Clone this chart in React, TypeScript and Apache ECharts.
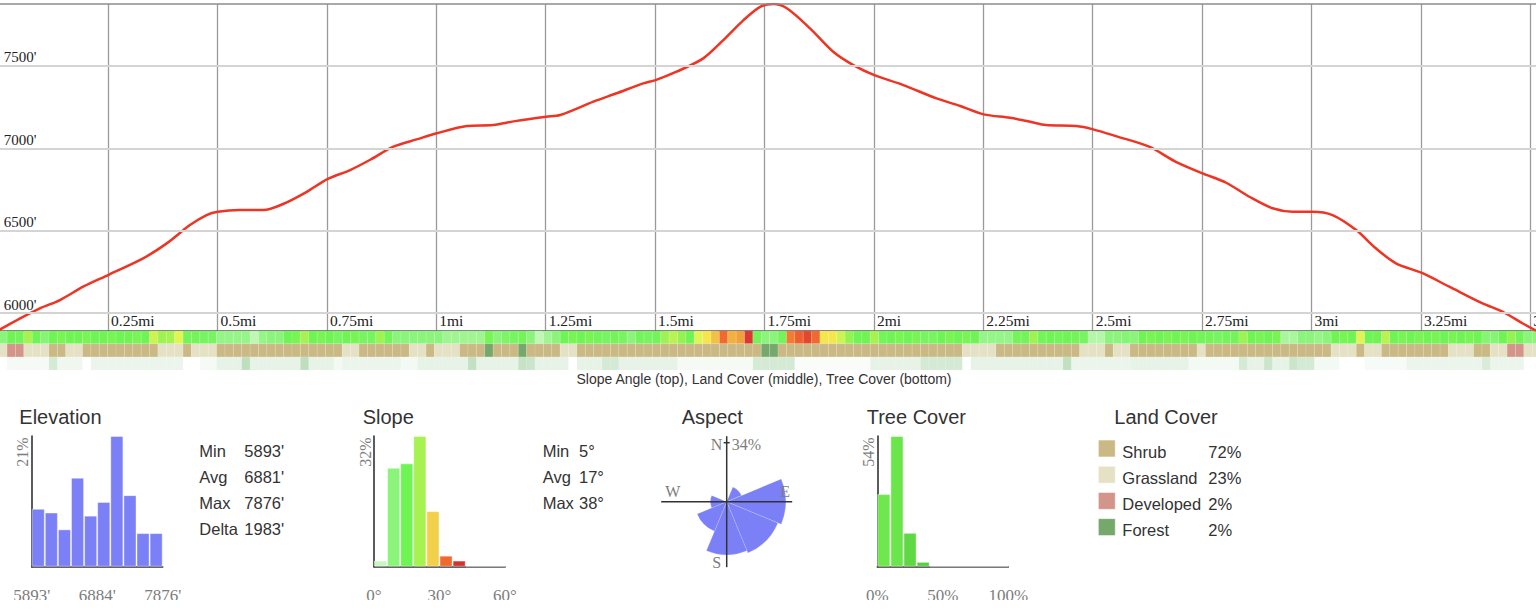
import React, { useEffect, useRef } from "react";
import * as echarts from "echarts";

// ---------------- data ----------------
const DIST_MI = [0, 0.049, 0.094, 0.14, 0.193, 0.25, 0.33, 0.384, 0.437, 0.475, 0.501, 0.551, 0.605, 0.65, 0.704, 0.751, 0.803, 0.848, 0.902, 0.955, 1.001, 1.07, 1.13, 1.18, 1.251, 1.283, 1.359, 1.412, 1.473, 1.501, 1.549, 1.61, 1.656, 1.702, 1.74, 1.77, 1.801, 1.854, 1.907, 1.953, 2.001, 2.067, 2.143, 2.197, 2.251, 2.311, 2.357, 2.393, 2.462, 2.501, 2.553, 2.629, 2.69, 2.751, 2.805, 2.858, 2.911, 2.957, 3.001, 3.048, 3.102, 3.147, 3.193, 3.251, 3.315, 3.391, 3.437, 3.482, 3.513];
const ELEV_FT = [5896, 5968, 6029, 6079, 6160, 6231, 6332, 6423, 6534, 6595, 6615, 6625, 6625, 6662, 6736, 6813, 6868, 6929, 7010, 7054, 7091, 7135, 7141, 7165, 7192, 7202, 7283, 7334, 7394, 7414, 7465, 7546, 7657, 7778, 7859, 7876, 7850, 7728, 7586, 7505, 7444, 7384, 7303, 7257, 7206, 7185, 7161, 7141, 7135, 7115, 7074, 7010, 6918, 6848, 6791, 6706, 6636, 6615, 6615, 6595, 6504, 6393, 6302, 6245, 6160, 6059, 6008, 5938, 5893];
const ELEV_TICKS = [6000, 6500, 7000, 7500];
const X_TICK_STEP = 0.25;

const CELL_MI = 0.01915;
const SLOPE_DEG = [
  9, 15, 14, 21, 15, 10, 15, 16, 15, 15,
  16, 15, 15, 16, 15, 15, 16, 15, 23, 20,
  21, 24, 14, 14, 13, 13, 8, 8, 8, 8,
  4, 8, 9, 9, 15, 16, 21, 15, 16, 15,
  13, 15, 16, 13, 13, 20, 14, 9, 9, 9,
  9, 9, 9, 7, 7, 7, 7, 7, 16, 9,
  12, 13, 14, 9, 4, 7, 9, 15, 16, 15,
  16, 14, 13, 14, 13, 9, 14, 13, 14, 20,
  22, 19, 15, 24, 26, 28, 33, 29, 30, 38,
  14, 9, 9, 14, 32, 34, 36, 33, 26, 26,
  23, 19, 15, 15, 21, 14, 15, 16, 15, 16,
  13, 13, 15, 16, 15, 16, 15, 8, 8, 8,
  8, 14, 14, 20, 14, 15, 14, 15, 14, 13,
  5, 5, 9, 9, 10, 9, 15, 16, 15, 16,
  15, 16, 15, 14, 14, 13, 14, 14, 20, 15,
  16, 15, 16, 6, 6, 9, 9, 8, 9, 15,
  16, 15, 24, 15, 15, 22, 15, 16, 15, 16,
  15, 16, 15, 16, 15, 16, 15, 10, 10, 15,
  19, 14, 9, 9,
];
const LAND_RUNS: [string, number][] = [
  ["Grassland", 1], ["Developed", 2], ["Grassland", 3], ["Shrub", 2], ["Grassland", 2], ["Shrub", 9],
  ["Grassland", 3], ["Shrub", 1], ["Grassland", 3], ["Shrub", 15], ["Grassland", 2], ["Shrub", 6],
  ["Grassland", 2], ["Shrub", 1], ["Grassland", 3], ["Shrub", 3], ["Forest", 1], ["Shrub", 3],
  ["Forest", 1], ["Shrub", 4], ["Grassland", 2], ["Shrub", 22], ["Forest", 2], ["Shrub", 22],
  ["Grassland", 4], ["Shrub", 10], ["Grassland", 3], ["Shrub", 1], ["Grassland", 2], ["Shrub", 8],
  ["Grassland", 1], ["Shrub", 15], ["Grassland", 3], ["Shrub", 1], ["Grassland", 2], ["Shrub", 8],
  ["Grassland", 3], ["Shrub", 2], ["Grassland", 2], ["Developed", 2], ["Grassland", 2],
];
const TREE_PCT = [
  0, 5, 5, 5, 5, 5, 21, 8, 8, 8,
  0, 10, 10, 10, 10, 10, 10, 10, 10, 10,
  10, 10, 0, 0, 5, 5, 12, 12, 12, 32,
  12, 12, 12, 12, 12, 12, 32, 12, 12, 12,
  6, 10, 10, 10, 10, 10, 10, 10, 6, 6,
  12, 12, 12, 12, 12, 12, 30, 12, 12, 12,
  12, 12, 28, 26, 12, 12, 12, 12, 0, 12,
  12, 12, 21, 21, 12, 12, 12, 12, 12, 12,
  12, 5, 5, 5, 5, 5, 5, 5, 5, 5,
  21, 21, 21, 21, 21, 3, 3, 3, 3, 3,
  3, 3, 3, 3, 12, 12, 12, 12, 12, 12,
  21, 21, 21, 21, 21, 0, 12, 12, 12, 12,
  12, 12, 12, 12, 12, 12, 12, 31, 10, 10,
  10, 10, 10, 10, 10, 12, 12, 12, 12, 12,
  12, 12, 6, 6, 6, 6, 6, 6, 21, 12,
  12, 26, 12, 12, 26, 21, 21, 6, 6, 6,
  0, 0, 0, 4, 4, 4, 4, 4, 10, 10,
  10, 10, 10, 10, 10, 10, 10, 19, 10, 10,
  10, 10, 0, 0,
];

const ELEV_HIST = [9.3, 8.7, 6.0, 14.3, 8.2, 10.4, 21, 11.5, 5.4, 5.4];
const ELEV_HIST_TICKS = ["5893'", "6884'", "7876'"];
const ELEV_STATS: [string, string][] = [["Min", "5893'"], ["Avg", "6881'"], ["Max", "7876'"], ["Delta", "1983'"]];

const SLOPE_HIST = [1.5, 24.2, 25.3, 32, 13.6, 2.7, 1.5, 0, 0, 0];
const SLOPE_BIN_DEG = 6;
const SLOPE_HIST_TICKS = ["0°", "30°", "60°"];
const SLOPE_STATS: [string, string][] = [["Min", "5°"], ["Avg", "17°"], ["Max", "38°"]];

const ASPECT_DIRS = ["N", "NE", "E", "SE", "S", "SW", "W", "NW"];
const ASPECT_PCT = [0, 2.5, 34, 30, 27.5, 10, 2.6, 0];

const TREE_HIST = [30, 54, 14, 2, 0, 0, 0, 0, 0, 0];
const TREE_HIST_TICKS = ["0%", "50%", "100%"];

const LAND_CLASSES = ["Shrub", "Grassland", "Developed", "Forest"];
const LAND_PCT = [72, 23, 2, 2];

// ---------------- styles ----------------
const SANS = '"Liberation Sans", Arial, Helvetica, sans-serif';
const SERIF = '"Liberation Serif", "Times New Roman", serif';
const PX_PER_MI = 437.6;
const PLOT_X0 = -1.3;
const HIST_BLUE = "#7b80f7";
const LABEL_GRAY = "#7d7d7d";
const LAND_COLORS: Record<string, string> = {
  Shrub: "#cab985",
  Grassland: "#e4e1c5",
  Developed: "#d3958a",
  Forest: "#76a86b",
};
const TREE_BIN_COLORS = ["#6fe84e", "#6ae64a", "#5fd943", "#55d03a", "#4cc833", "#44c02d", "#3cb828", "#34b024", "#2ca820", "#24a01c"];
const SLOPE_STOPS: [number, string][] = [
  [0, "#e2fbdc"], [3, "#c8f8c0"], [9, "#8af57a"], [15, "#6ef553"], [21, "#a5f250"],
  [24, "#e0f552"], [26, "#f5e64e"], [27, "#f2d04a"], [30, "#f2a03c"], [33, "#f06a30"],
  [36, "#e4482c"], [39, "#d83030"],
];

function hexToRgb(h: string) {
  const n = parseInt(h.slice(1), 16);
  return [(n >> 16) & 255, (n >> 8) & 255, n & 255];
}
function slopeColor(v: number) {
  if (v <= SLOPE_STOPS[0][0]) return SLOPE_STOPS[0][1];
  for (let i = 1; i < SLOPE_STOPS.length; i++) {
    const [x1, c1] = SLOPE_STOPS[i];
    if (v <= x1) {
      const [x0, c0] = SLOPE_STOPS[i - 1];
      const t = (v - x0) / (x1 - x0);
      const a = hexToRgb(c0), b = hexToRgb(c1);
      const m = a.map((ch, k) => Math.round(ch + (b[k] - ch) * t));
      return `rgb(${m[0]},${m[1]},${m[2]})`;
    }
  }
  return SLOPE_STOPS[SLOPE_STOPS.length - 1][1];
}
function treeColor(p: number) {
  return `rgba(0,128,0,${(p * 0.008).toFixed(3)})`;
}

function buildOption() {
  const XMAX = DIST_MI[DIST_MI.length - 1];
  const plotW = XMAX * PX_PER_MI;
  const elevMin = Math.min(...ELEV_FT);
  const elevMax = Math.max(...ELEV_FT);

  // strips
  const landCells: string[] = [];
  LAND_RUNS.forEach(([c, n]) => { for (let k = 0; k < n; k++) landCells.push(c); });
  const stripData: number[][] = [];
  const stripColors: string[] = [];
  SLOPE_DEG.forEach((v, i) => { stripData.push([i * CELL_MI, (i + 1) * CELL_MI, 0]); stripColors.push(slopeColor(v)); });
  landCells.forEach((c, i) => { stripData.push([i * CELL_MI, (i + 1) * CELL_MI, 1]); stripColors.push(LAND_COLORS[c]); });
  TREE_PCT.forEach((v, i) => { stripData.push([i * CELL_MI, (i + 1) * CELL_MI, 2]); stripColors.push(treeColor(v)); });

  const bins = Array.from({ length: 10 }, (_, i) => String(i));
  const isTick = (v: number) => Math.abs(v / X_TICK_STEP - Math.round(v / X_TICK_STEP)) < 1e-6;

  const txt = (text: string, x: number, y: number, o: any = {}) => ({
    type: "text",
    x, y,
    rotation: o.rot || 0,
    z: 50,
    silent: true,
    style: {
      text,
      fill: o.color || "#333",
      fontSize: o.size || 16.5,
      fontFamily: o.font || SANS,
      align: o.align || "left",
      verticalAlign: o.va || "middle",
      textAlign: o.align || "left",
      textVerticalAlign: o.va || "middle",
    },
  });
  const line = (x1: number, y1: number, x2: number, y2: number, color = "#333", w = 1.5) => ({
    type: "line", z: 60, silent: true,
    shape: { x1, y1, x2, y2 },
    style: { stroke: color, lineWidth: w },
  });

  const graphics: any[] = [];
  graphics.push(line(0, 4, 1536, 4, "#8c8c8c", 1.5));
  graphics.push(txt("Slope Angle (top), Land Cover (middle), Tree Cover (bottom)", 764, 378.5, { size: 14, align: "center", color: "#333" }));
  graphics.push(txt("Elevation", 19.3, 417, { size: 20 }));
  graphics.push(txt("Slope", 362.7, 417, { size: 20 }));
  graphics.push(txt("Aspect", 681.7, 417, { size: 20 }));
  graphics.push(txt("Tree Cover", 866.7, 417, { size: 20 }));
  graphics.push(txt("Land Cover", 1114.3, 417, { size: 20 }));
  ELEV_STATS.forEach(([k, v], i) => {
    graphics.push(txt(k, 199.3, 451.2 + i * 26));
    graphics.push(txt(v, 244.3, 451.2 + i * 26));
  });
  SLOPE_STATS.forEach(([k, v], i) => {
    graphics.push(txt(k, 542.7, 451.2 + i * 26));
    graphics.push(txt(v, 579, 451.2 + i * 26));
  });
  graphics.push(txt(`${Math.max(...ELEV_HIST)}%`, 22.7, 437.5, { font: SERIF, size: 16, color: LABEL_GRAY, rot: Math.PI / 2, align: "right" }));
  graphics.push(txt(`${Math.max(...SLOPE_HIST)}%`, 365.3, 437.5, { font: SERIF, size: 16, color: LABEL_GRAY, rot: Math.PI / 2, align: "right" }));
  graphics.push(txt(`${Math.max(...TREE_HIST)}%`, 868, 437.5, { font: SERIF, size: 16, color: LABEL_GRAY, rot: Math.PI / 2, align: "right" }));
  const histX = [[31.7, ELEV_HIST_TICKS], [374, SLOPE_HIST_TICKS], [877.3, TREE_HIST_TICKS]] as [number, string[]][];
  histX.forEach(([x0, labs]) => {
    labs.forEach((l, i) => graphics.push(txt(l, x0 + i * 65.5, 595.5, { font: SERIF, size: 17, color: LABEL_GRAY, align: "center" })));
  });
  const cx = 726.7, cy = 501.7, R = 59, RA = 65.5;
  graphics.push(line(cx, cy - RA, cx, cy + RA, "#333", 1.5));
  graphics.push(line(cx - RA, cy, cx + RA, cy, "#333", 1.5));
  graphics.push(line(cx - 3, cy - R, cx + 3, cy - R, "#333", 1.5));
  graphics.push(txt("N", cx - 4.5, cy - R + 2, { font: SERIF, size: 16, color: LABEL_GRAY, align: "right" }));
  graphics.push(txt(`${Math.max(...ASPECT_PCT)}%`, cx + 5, cy - R + 2, { font: SERIF, size: 16, color: LABEL_GRAY }));
  graphics.push(txt("W", cx - 54, cy - 10, { font: SERIF, size: 16, color: LABEL_GRAY, align: "center" }));
  graphics.push(txt("E", cx + 58.5, cy - 10, { font: SERIF, size: 16, color: LABEL_GRAY, align: "center" }));
  graphics.push(txt("S", cx - 10, cy + 61, { font: SERIF, size: 16, color: LABEL_GRAY, align: "center" }));
  LAND_CLASSES.forEach((c, i) => {
    const y = 440 + i * 26.2;
    graphics.push({
      type: "rect", z: 50, silent: true,
      shape: { x: 1098.3, y, width: 17, height: 17 },
      style: { fill: LAND_COLORS[c], stroke: "rgba(255,255,255,0.6)", lineWidth: 1 },
    });
    graphics.push(txt(c, 1122.3, y + 11.6));
    graphics.push(txt(`${LAND_PCT[i]}%`, 1208.3, y + 11.6));
  });
  graphics.push({ type: "rect", z: 1000, silent: true, shape: { x: 0, y: 600, width: 1536, height: 13 }, style: { fill: "#fff" } });

  const histYAxis = (gi: number, max: number) => ({
    gridIndex: gi, type: "value", min: 0, max,
    axisLine: { show: true, lineStyle: { color: "#333", width: 1.6 } },
    axisTick: { show: false }, axisLabel: { show: false }, splitLine: { show: false },
  });
  const histXAxis = (gi: number) => ({
    gridIndex: gi, type: "category", data: bins,
    axisLine: { show: true, lineStyle: { color: "#333", width: 1.6 } },
    axisTick: { show: false }, axisLabel: { show: false }, splitLine: { show: false },
  });
  const barStyle = { borderColor: "rgba(255,255,255,0.4)", borderWidth: 1 };
  const g = (o: any) => ({ containLabel: false, outerBoundsMode: "none", ...o });

  return {
    animation: false,
    backgroundColor: "#fff",
    grid: [
      g({ left: PLOT_X0, top: 4, width: plotW, height: 326.7 }),
      g({ left: PLOT_X0, top: 330.7, width: plotW, height: 39.3 }),
      g({ left: 31.7, top: 436, width: 131, height: 130.7 }),
      g({ left: 374, top: 436, width: 131, height: 130.7 }),
      g({ left: 877.3, top: 436, width: 131, height: 130.7 }),
    ],
    xAxis: [
      {
        gridIndex: 0, type: "value", min: 0, max: XMAX, interval: X_TICK_STEP,
        axisLine: { show: true, onZero: false, lineStyle: { color: "#555", width: 1.5 } },
        axisTick: { show: false },
        splitLine: { show: true, showMinLine: false, showMaxLine: false, lineStyle: { color: "#9a9a9a", width: 1.3 } },
        axisLabel: {
          inside: true, margin: 2, align: "left", padding: [0, 0, 0, 3],
          color: "#222", fontFamily: SERIF, fontSize: 15.5,
          showMinLabel: false, showMaxLabel: false, hideOverlap: false,
          formatter: (v: number) => (isTick(v) && v > 0 ? `${+v.toFixed(2)}mi` : ""),
        },
      },
      { gridIndex: 1, type: "value", min: 0, max: XMAX, show: false },
      histXAxis(2), histXAxis(3), histXAxis(4),
    ],
    yAxis: [
      { gridIndex: 0, type: "value", min: elevMin, max: elevMax, show: false, splitLine: { show: false } },
      { gridIndex: 1, type: "category", data: ["Slope", "Land", "Tree"], inverse: true, show: false },
      histYAxis(2, Math.max(...ELEV_HIST)),
      histYAxis(3, Math.max(...SLOPE_HIST)),
      histYAxis(4, Math.max(...TREE_HIST)),
    ],
    polar: { center: [cx, cy], radius: R },
    angleAxis: { type: "category", data: ASPECT_DIRS, startAngle: 112.5, clockwise: true, show: false },
    radiusAxis: { type: "value", min: 0, max: Math.sqrt(Math.max(...ASPECT_PCT)), show: false },
    graphic: { elements: graphics },
    series: [
      {
        type: "line", xAxisIndex: 0, yAxisIndex: 0, data: [], z: 1, silent: true,
        markLine: {
          silent: true, symbol: ["none", "none"], animation: false,
          lineStyle: { color: "#d4d4d4", width: 2, type: "solid" },
          label: {
            position: "insideStartTop", distance: 1, padding: [0, 0, 0, 4],
            formatter: (p: any) => `${p.value}'`, color: "#222", fontFamily: SERIF, fontSize: 15,
          },
          data: ELEV_TICKS.map((v) => ({ yAxis: v })),
        },
      },
      {
        type: "line", xAxisIndex: 0, yAxisIndex: 0, z: 3,
        data: DIST_MI.map((d, i) => [d, ELEV_FT[i]]),
        smooth: 0.3, symbol: "none",
        lineStyle: { color: "#ee3524", width: 2.5 },
      },
      {
        type: "custom", xAxisIndex: 1, yAxisIndex: 1, clip: true,
        encode: { x: [0, 1], y: 2 },
        data: stripData,
        renderItem: (params: any, api: any) => {
          const a = api.coord([api.value(0), api.value(2)]);
          const b = api.coord([api.value(1), api.value(2)]);
          const h = api.size([0, 1])[1];
          return {
            type: "rect",
            shape: { x: a[0], y: a[1] - h / 2, width: b[0] - a[0], height: h },
            style: { fill: stripColors[params.dataIndex], stroke: "rgba(255,255,255,0.22)", lineWidth: 0.6 },
          };
        },
      },
      {
        type: "bar", xAxisIndex: 2, yAxisIndex: 2, data: ELEV_HIST, barCategoryGap: "0%",
        itemStyle: { color: HIST_BLUE, ...barStyle },
      },
      {
        type: "bar", xAxisIndex: 3, yAxisIndex: 3, barCategoryGap: "0%",
        data: SLOPE_HIST.map((v, i) => ({ value: v, itemStyle: { color: slopeColor(i * SLOPE_BIN_DEG + SLOPE_BIN_DEG / 2) } })),
        itemStyle: barStyle,
      },
      {
        type: "bar", xAxisIndex: 4, yAxisIndex: 4, barCategoryGap: "0%",
        data: TREE_HIST.map((v, i) => ({ value: v, itemStyle: { color: TREE_BIN_COLORS[i] } })),
        itemStyle: barStyle,
      },
      {
        type: "bar", coordinateSystem: "polar", barCategoryGap: "0%",
        data: ASPECT_PCT.map((v) => Math.sqrt(v)),
        itemStyle: { color: HIST_BLUE, borderColor: "rgba(255,255,255,0.2)", borderWidth: 0.8 },
      },
    ],
  };
}

export default function App() {
  const ref = useRef<HTMLDivElement>(null);
  useEffect(() => {
    const chart = echarts.init(ref.current!, null, { renderer: "svg" });
    chart.setOption(buildOption() as any);
    return () => chart.dispose();
  }, []);
  return (
    <div
      ref={ref}
      style={{ position: "absolute", left: 0, top: 0, width: 1536, height: 613, background: "#fff", overflow: "hidden" }}
    />
  );
}
